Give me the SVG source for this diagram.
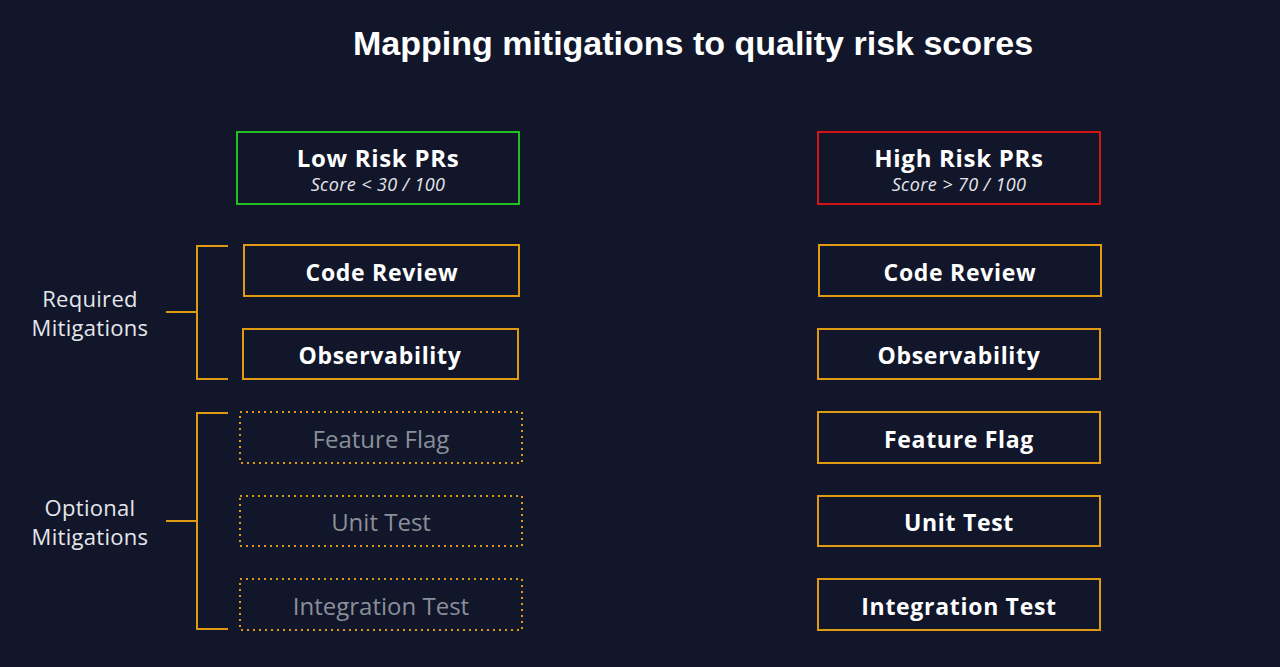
<svg xmlns="http://www.w3.org/2000/svg" width="1280" height="667" viewBox="0 0 1280 667">
<style>
.bg{fill:#11162a}
.t{font-family:"Liberation Sans",Arial,sans-serif;font-weight:bold;font-size:34px;fill:#ffffff}
.box{fill:none;stroke:#e09a12;stroke-width:2}
.dot{fill:none;stroke:#e09a12;stroke-width:2;stroke-dasharray:2 4}
.lbl{font-family:"Open Sans",sans-serif;font-weight:bold;font-size:23px;letter-spacing:0.7px;fill:#ffffff;text-anchor:middle}
.hd{font-family:"Open Sans",sans-serif;font-weight:bold;font-size:24px;letter-spacing:0.7px;fill:#ffffff;text-anchor:middle}
.dim{font-family:"Open Sans",sans-serif;font-size:24px;fill:#8b8f99;text-anchor:middle}
.sub{font-family:"Open Sans",sans-serif;font-style:italic;font-size:18px;letter-spacing:0.4px;fill:#e6e6ea;text-anchor:middle}
.side{font-family:"Open Sans",sans-serif;font-size:22px;letter-spacing:0.3px;fill:#e6e6ea;text-anchor:middle}
.br{fill:none;stroke:#e09a12;stroke-width:2}
</style>
<rect class="bg" x="0" y="0" width="1280" height="667"/>
<text class="t" x="693" y="55" text-anchor="middle">Mapping mitigations to quality risk scores</text>

<g id="low-risk">
<rect x="237" y="132" width="282" height="72" fill="none" stroke="#1ec21e" stroke-width="2"/>
<text class="hd" x="378" y="167">Low Risk PRs</text>
<text class="sub" x="378" y="191">Score &lt; 30 / 100</text>
</g>
<g id="high-risk">
<rect x="818" y="132" width="282" height="72" fill="none" stroke="#d41515" stroke-width="2"/>
<text class="hd" x="959" y="167">High Risk PRs</text>
<text class="sub" x="959" y="191">Score &gt; 70 / 100</text>
</g>

<g id="required-label">
<text class="side" x="90" y="307">Required</text>
<text class="side" x="90" y="336">Mitigations</text>
</g>
<g id="optional-label">
<text class="side" x="90" y="516">Optional</text>
<text class="side" x="90" y="545">Mitigations</text>
</g>

<g id="low-code-review"><rect class="box" x="244" y="245" width="275" height="51"/><text class="lbl" x="382" y="281">Code Review</text></g>
<g id="low-observability"><rect class="box" x="243" y="329" width="275" height="50"/><text class="lbl" x="380" y="364">Observability</text></g>
<g id="low-feature-flag"><rect class="dot" x="240" y="412" width="282" height="51"/><text class="dim" x="381" y="448">Feature Flag</text></g>
<g id="low-unit-test"><rect class="dot" x="240" y="496" width="282" height="50"/><text class="dim" x="381" y="531">Unit Test</text></g>
<g id="low-integration-test"><rect class="dot" x="240" y="579" width="282" height="51"/><text class="dim" x="381" y="615">Integration Test</text></g>

<g id="high-code-review"><rect class="box" x="819" y="245" width="282" height="51"/><text class="lbl" x="960" y="281">Code Review</text></g>
<g id="high-observability"><rect class="box" x="818" y="329" width="282" height="50"/><text class="lbl" x="959" y="364">Observability</text></g>
<g id="high-feature-flag"><rect class="box" x="818" y="412" width="282" height="51"/><text class="lbl" x="959" y="448">Feature Flag</text></g>
<g id="high-unit-test"><rect class="box" x="818" y="496" width="282" height="50"/><text class="lbl" x="959" y="531">Unit Test</text></g>
<g id="high-integration-test"><rect class="box" x="818" y="579" width="282" height="51"/><text class="lbl" x="959" y="615">Integration Test</text></g>

<g id="connectors">
<path class="br" d="M228 246 H197 V379 H228 M166 312 H197"/>
<path class="br" d="M228 413 H197 V629 H228 M166 521 H197"/>
</g>
</svg>
